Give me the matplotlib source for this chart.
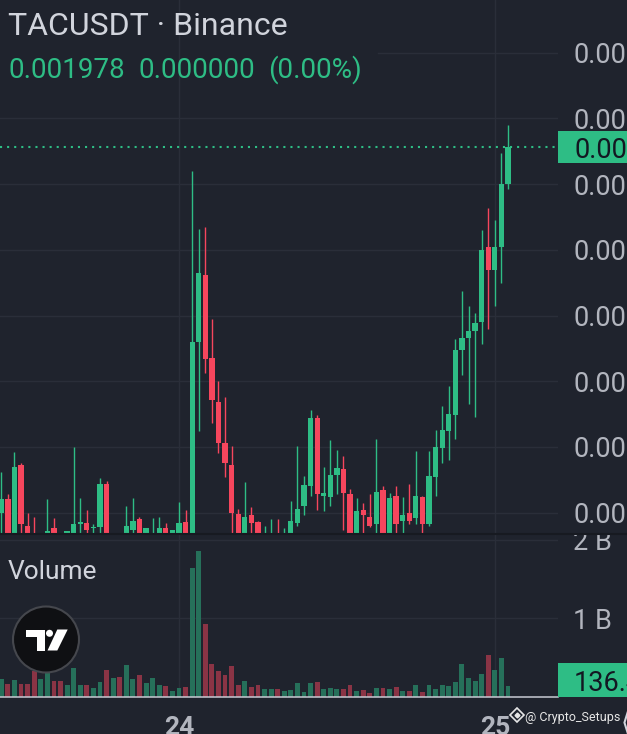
import matplotlib
matplotlib.use('Agg')
import matplotlib.pyplot as plt
from matplotlib.patches import Rectangle, Circle, Polygon
from matplotlib.transforms import Bbox, TransformedBbox

plt.rcParams['font.family'] = ['Roboto', 'DejaVu Sans']

symbol = 'TACUSDT'
exchange = 'Binance'

# 30 minute candles (USDT), first candle 23rd 10:30
opens = [0.001700, 0.001710, 0.001680, 0.001736, 0.001690, 0.001683, 0.001676, 0.001684,
         0.001688, 0.001682, 0.001680, 0.001680, 0.001691, 0.001692, 0.001688, 0.001689,
         0.001722, 0.001676, 0.001682, 0.001679, 0.001687, 0.001695, 0.001681, 0.001679,
         0.001680, 0.001688, 0.001681, 0.001682, 0.001693, 0.001682, 0.001830, 0.001881,
         0.001818, 0.001784, 0.001753, 0.001736, 0.001699, 0.001681, 0.001698, 0.001693,
         0.001679, 0.001680, 0.001683, 0.001679, 0.001682, 0.001692, 0.001705, 0.001720,
         0.001772, 0.001713, 0.001712, 0.001729, 0.001733, 0.001714, 0.001682, 0.001702,
         0.001697, 0.001691, 0.001717, 0.001682, 0.001713, 0.001694, 0.001700, 0.001696,
         0.001712, 0.001691, 0.001727, 0.001749, 0.001762, 0.001774, 0.001824, 0.001833,
         0.001838, 0.001845, 0.001902, 0.001885, 0.001902, 0.001950]
highs = [0.001731, 0.001714, 0.001746, 0.001738, 0.001700, 0.001697, 0.001684, 0.001710,
         0.001696, 0.001684, 0.001686, 0.001750, 0.001711, 0.001702, 0.001691, 0.001726,
         0.001724, 0.001684, 0.001684, 0.001705, 0.001711, 0.001697, 0.001688, 0.001696,
         0.001697, 0.001692, 0.001687, 0.001708, 0.001702, 0.001960, 0.001916, 0.001917,
         0.001847, 0.001800, 0.001788, 0.001751, 0.001703, 0.001723, 0.001704, 0.001694,
         0.001690, 0.001695, 0.001695, 0.001688, 0.001709, 0.001751, 0.001728, 0.001778,
         0.001774, 0.001735, 0.001755, 0.001748, 0.001743, 0.001718, 0.001711, 0.001707,
         0.001714, 0.001756, 0.001720, 0.001715, 0.001720, 0.001712, 0.001722, 0.001747,
         0.001713, 0.001747, 0.001763, 0.001781, 0.001796, 0.001832, 0.001869, 0.001857,
         0.001852, 0.001915, 0.001932, 0.001923, 0.001974, 0.001995]
lows = [0.001675, 0.001675, 0.001675, 0.001675, 0.001675, 0.001672, 0.001672, 0.001675,
        0.001675, 0.001674, 0.001676, 0.001676, 0.001678, 0.001678, 0.001680, 0.001678,
        0.001676, 0.001672, 0.001673, 0.001675, 0.001678, 0.001676, 0.001677, 0.001675,
        0.001676, 0.001676, 0.001678, 0.001677, 0.001676, 0.001678, 0.001762, 0.001806,
        0.001768, 0.001745, 0.001727, 0.001676, 0.001676, 0.001677, 0.001678, 0.001677,
        0.001675, 0.001676, 0.001675, 0.001676, 0.001677, 0.001690, 0.001698, 0.001713,
        0.001702, 0.001701, 0.001705, 0.001714, 0.001687, 0.001677, 0.001678, 0.001680,
        0.001689, 0.001680, 0.001677, 0.001678, 0.001680, 0.001680, 0.001691, 0.001691,
        0.001680, 0.001690, 0.001713, 0.001738, 0.001740, 0.001756, 0.001805, 0.001783,
        0.001773, 0.001828, 0.001840, 0.001857, 0.001875, 0.001946]
closes = [0.001710, 0.001680, 0.001735, 0.001691, 0.001680, 0.001678, 0.001681, 0.001686,
          0.001680, 0.001678, 0.001686, 0.001691, 0.001693, 0.001687, 0.001689, 0.001722,
          0.001680, 0.001682, 0.001677, 0.001690, 0.001694, 0.001681, 0.001688, 0.001683,
          0.001688, 0.001681, 0.001687, 0.001692, 0.001682, 0.001830, 0.001882, 0.001817,
          0.001786, 0.001753, 0.001738, 0.001700, 0.001681, 0.001697, 0.001692, 0.001682,
          0.001683, 0.001683, 0.001679, 0.001683, 0.001694, 0.001703, 0.001721, 0.001772,
          0.001714, 0.001715, 0.001729, 0.001734, 0.001715, 0.001682, 0.001701, 0.001698,
          0.001690, 0.001716, 0.001682, 0.001711, 0.001691, 0.001698, 0.001694, 0.001713,
          0.001691, 0.001728, 0.001750, 0.001763, 0.001775, 0.001824, 0.001833, 0.001838,
          0.001844, 0.001900, 0.001885, 0.001902, 0.001950, 0.001978]
# volume in millions
volumes = [223, 168, 219, 168, 168, 325, 223, 303, 201, 210, 147, 372, 155, 155, 112, 197,
           350, 240, 261, 410, 223, 274, 181, 240, 155, 138, 74, 117, 125, 1641, 1854, 933,
           414, 329, 283, 401, 155, 201, 125, 147, 104, 104, 104, 74, 83, 181, 70, 176,
           194, 96, 117, 96, 96, 159, 74, 83, 48, 117, 117, 104, 125, 74, 74, 147,
           70, 155, 99, 147, 138, 197, 414, 240, 201, 296, 538, 338, 494, 136.4]

change = 0.0
change_pct = 0.0

day_ticks = [27, 75]
day_labels = ['24', '25']
price_ticks = [0.00170, 0.00175, 0.00180, 0.00185, 0.00190, 0.00195, 0.00200, 0.00205]
volume_ticks = [1000, 2000]
volume_labels = ['1 B', '2 B']

BG = '#1f232d'
GRID = '#2a2e39'
UP = '#2ebd85'
DOWN = '#f6465d'
UP_VOL = '#26705a'
DOWN_VOL = '#8a3445'
TEXT = '#d1d4dc'
AXIS_TEXT = '#b2b5be'
AXIS_SIZE = 19.5

W, H = 627, 734
fig = plt.figure(figsize=(W / 100, H / 100), dpi=100, facecolor=BG)


def box(left, top, right, bottom):
    return [left / W, 1 - bottom / H, (right - left) / W, (bottom - top) / H]


ax_p = fig.add_axes(box(0, 0, 558, 533))
ax_v = fig.add_axes(box(0, 533, 558, 697))

n = len(closes)
x = list(range(n))
up = [c >= o for o, c in zip(opens, closes)]
colors = [UP if u else DOWN for u in up]
vol_colors = [UP_VOL if u else DOWN_VOL for u in up]
body_low = [min(o, c) for o, c in zip(opens, closes)]
body_h = [max(abs(c - o), 0.0000012) for o, c in zip(opens, closes)]

for ax in (ax_p, ax_v):
    ax.set_facecolor(BG)
    for s in ax.spines.values():
        s.set_visible(False)
    ax.set_xlim(-0.198, 84.6)
    ax.set_xticks(day_ticks)
    ax.grid(axis='x', color=GRID, lw=1.0)
    ax.set_axisbelow(True)
    ax.yaxis.tick_right()

# price pane
ax_p.vlines(x, lows, highs, colors=colors, lw=1.0, zorder=2)
ax_p.bar(x, body_h, bottom=body_low, width=0.8, color=colors, lw=0, zorder=3)
ax_p.set_ylim(0.0016845, 0.0020901)
ax_p.set_yticks(price_ticks, [f'{t:.6f}' for t in price_ticks])
ax_p.tick_params(axis='x', length=0, labelbottom=False)
ax_p.tick_params(axis='y', length=0, pad=11, labelsize=AXIS_SIZE, labelcolor=AXIS_TEXT)
for t in price_ticks:
    xmin = 378 / 558 if t == max(price_ticks) else 0
    ax_p.axhline(t, xmin=xmin, color=GRID, lw=1.0, zorder=0)

last = closes[-1]
ax_p.axhline(last, color=UP, lw=1.5, ls=(0, (1, 2.4)), zorder=4)
ax_p.add_patch(Rectangle((1.0, last - 0.0000122), 0.2, 0.0000244,
                         transform=ax_p.get_yaxis_transform(), clip_on=False,
                         fc=UP, ec='none', zorder=5))
ax_p.text(1 + 16 / 558, last, f'{last:.6f}', transform=ax_p.get_yaxis_transform(),
          color='#131722', fontsize=AXIS_SIZE, va='center_baseline', ha='left',
          clip_on=False, zorder=6)

# volume pane
ax_v.bar(x, volumes, width=0.74, color=vol_colors, lw=0, zorder=2)
ax_v.set_ylim(0, 2089)
ax_v.set_yticks(volume_ticks, volume_labels)
ax_v.tick_params(axis='y', length=0, pad=11, labelsize=AXIS_SIZE, labelcolor=AXIS_TEXT)
ax_v.set_xticks(day_ticks, day_labels)
ax_v.tick_params(axis='x', length=0, pad=13.5, labelsize=19, labelcolor=AXIS_TEXT)
for lab in ax_v.get_xticklabels():
    lab.set_fontweight('bold')
for t in volume_ticks:
    ax_v.axhline(t, color=GRID, lw=1.0, zorder=0)
ax_v.axhline(0, color='#c8cbd3', lw=1.1, zorder=4, clip_on=False)
clip = TransformedBbox(Bbox([[0, 37 / H], [1, 200.5 / H]]), fig.transFigure)
for lab in ax_v.get_yticklabels():
    lab.set_clip_box(clip)
    lab.set_clip_on(True)

vol_last = volumes[-1]
ax_v.add_patch(Rectangle((1.0, 0), 0.2, 433, transform=ax_v.get_yaxis_transform(),
                         clip_on=False, fc=UP, ec='none', zorder=5))
ax_v.text(1 + 16 / 558, 216, f'{vol_last:.2f}M', transform=ax_v.get_yaxis_transform(),
          color='#131722', fontsize=AXIS_SIZE, va='center_baseline', ha='left',
          clip_on=False, zorder=6)

# overlay: legend, logo, watermark
ov = fig.add_axes([0, 0, 1, 1])
ov.set_xlim(0, W)
ov.set_ylim(H, 0)
ov.axis('off')
ov.set_zorder(10)

ov.plot([0, W], [533.5, 533.5], color='#171a21', lw=1.5)
ov.text(8, 35, f'{symbol} · {exchange}', fontsize=23, color=TEXT, va='baseline')
ov.text(8, 78, f'{last:.6f}', fontsize=20, color=UP, va='baseline')
ov.text(138, 78, f'{change:.6f}', fontsize=20, color=UP, va='baseline')
ov.text(268, 78, f'({change_pct:.2f}%)', fontsize=20, color=UP, va='baseline')
ov.text(8, 579, 'Volume', fontsize=19, color=TEXT, va='baseline')

ov.add_patch(Circle((46, 639.5), 33, fc='#0f1013', ec='#45474d', lw=1.5))
ov.add_patch(Rectangle((26, 629.5), 19, 7.5, fc='white', ec='none'))
ov.add_patch(Rectangle((36.5, 629.5), 8.5, 21, fc='white', ec='none'))
ov.add_patch(Circle((49.5, 633.3), 3.5, fc='white', ec='none'))
ov.add_patch(Polygon([(57.3, 629.5), (67.7, 629.5), (57.3, 650.5), (47.5, 650.5)],
                     closed=True, fc='white', ec='none'))

ov.plot([516.5], [715], marker='D', ms=7, mfc='none', mec='#e6e6e6', mew=1.2)
ov.plot([516.5], [715], marker='D', ms=2.5, color='#e6e6e6')
ov.text(525, 717, '@ Crypto_Setups', fontsize=9, color='#e6e6e6', va='center')
ov.text(621, 724, '⟨', fontsize=19, color=TEXT, va='center')

fig.savefig('out.png', dpi=100, facecolor=BG)
